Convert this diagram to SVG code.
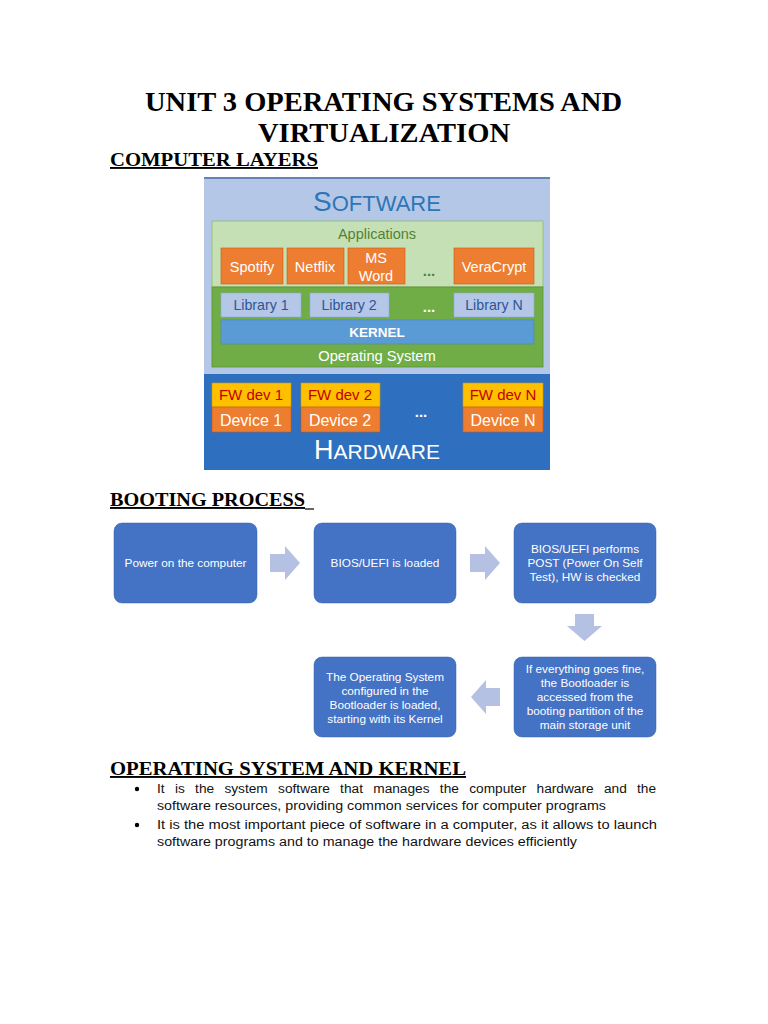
<svg xmlns="http://www.w3.org/2000/svg" width="768" height="1024" viewBox="0 0 768 1024">
<style>
.h{font-family:"Liberation Serif","Times New Roman",serif;font-weight:bold;fill:#000}
.sec{font-family:"Liberation Serif","Times New Roman",serif;font-weight:bold;font-size:19px;text-decoration:underline;fill:#000}
.c{font-family:"Liberation Sans",Arial,sans-serif;text-anchor:middle}
.w{fill:#fff}
.or{fill:#ed7d31;stroke:#c55a11;stroke-width:0.6}
.lib{fill:#b4c7e7;stroke:#8faadc;stroke-width:0.6}
.fw{fill:#ffc000;stroke:#c99a00;stroke-width:0.6}
.box{fill:#4472c4;stroke:#3a62a8;stroke-width:0.5}
.bt{font-family:"Liberation Sans",Arial,sans-serif;font-size:11.8px;fill:#fff;text-anchor:middle}
.ar{fill:#b4c1e2}
.body{font-family:"Liberation Sans",Arial,sans-serif;font-size:13.7px;fill:#111}
</style>
<rect width="768" height="1024" fill="#fff"/>
<g id="title">
<text class="h" x="145" y="111" font-size="28" textLength="477" lengthAdjust="spacingAndGlyphs">UNIT 3 OPERATING SYSTEMS AND</text>
<text class="h" x="258" y="142" font-size="28" textLength="252" lengthAdjust="spacingAndGlyphs">VIRTUALIZATION</text>
</g>
<text class="sec" x="110" y="166" textLength="208" lengthAdjust="spacingAndGlyphs">COMPUTER LAYERS</text>
<g id="layers">
<rect x="204" y="177" width="346" height="197" fill="#b4c7e7"/>
<line x1="204" y1="178" x2="550" y2="178" stroke="#4a6ea8" stroke-width="1.5"/>
<text class="c" x="377" y="211" fill="#2e75b6" font-size="22"><tspan font-size="28">S</tspan>OFTWARE</text>
<g id="applications">
<rect x="212" y="221" width="331" height="66" fill="#c5e0b4" stroke="#8fbc6f" stroke-width="0.8"/>
<text class="c" x="377" y="239" fill="#548235" font-size="14.5">Applications</text>
</g>
<g id="spotify"><rect class="or" x="221" y="248" width="62" height="36"/><text class="c w" x="252" y="272" font-size="14.5">Spotify</text></g>
<g id="netflix"><rect class="or" x="287" y="248" width="57" height="36"/><text class="c w" x="315" y="272" font-size="14.5">Netflix</text></g>
<g id="msword"><rect class="or" x="348" y="248" width="57" height="36"/><text class="c w" x="376" y="263" font-size="14.5">MS</text><text class="c w" x="376" y="281" font-size="14.5">Word</text></g>
<text class="c" x="429" y="276" fill="#548235" font-size="15" font-weight="bold">...</text>
<g id="veracrypt"><rect class="or" x="454" y="248" width="80" height="36"/><text class="c w" x="494" y="272" font-size="14.5">VeraCrypt</text></g>
<g id="os">
<rect x="212" y="287" width="331" height="80" fill="#70ad47" stroke="#5a8f38" stroke-width="0.8"/>
<text class="c w" x="377" y="361" font-size="14.7">Operating System</text>
</g>
<g id="lib1"><rect class="lib" x="221" y="293" width="80" height="24"/><text class="c" x="261" y="310" fill="#2f5597" font-size="14.2">Library 1</text></g>
<g id="lib2"><rect class="lib" x="310" y="293" width="79" height="24"/><text class="c" x="349" y="310" fill="#2f5597" font-size="14.2">Library 2</text></g>
<text class="c w" x="429" y="312" font-size="15" font-weight="bold">...</text>
<g id="libn"><rect class="lib" x="454" y="293" width="80" height="24"/><text class="c" x="494" y="310" fill="#2f5597" font-size="14.2">Library N</text></g>
<g id="kernel"><rect x="221" y="320" width="313" height="24" fill="#5b9bd5" stroke="#4a85bd" stroke-width="0.6"/><text class="c w" x="377" y="337" font-size="13.5" font-weight="bold">KERNEL</text></g>
<g id="hardware">
<rect x="204" y="374" width="346" height="96" fill="#2e6fc0"/>
<text class="c w" x="377" y="459" font-size="21"><tspan font-size="27">H</tspan>ARDWARE</text>
</g>
<g id="dev1"><rect class="fw" x="212" y="383" width="79" height="24"/><text class="c" x="251" y="400" fill="#c00000" font-size="15">FW dev 1</text><rect class="or" x="212" y="407" width="79" height="25"/><text class="c w" x="251" y="426" font-size="16">Device 1</text></g>
<g id="dev2"><rect class="fw" x="301" y="383" width="79" height="24"/><text class="c" x="340" y="400" fill="#c00000" font-size="15">FW dev 2</text><rect class="or" x="301" y="407" width="79" height="25"/><text class="c w" x="340" y="426" font-size="16">Device 2</text></g>
<text class="c w" x="421" y="417" font-size="15" font-weight="bold">...</text>
<g id="devn"><rect class="fw" x="463" y="383" width="80" height="24"/><text class="c" x="503" y="400" fill="#c00000" font-size="15">FW dev N</text><rect class="or" x="463" y="407" width="80" height="25"/><text class="c w" x="503" y="426" font-size="16">Device N</text></g>
</g>
<text class="sec" x="110" y="506" textLength="195" lengthAdjust="spacingAndGlyphs">BOOTING PROCESS</text>
<line x1="305" y1="509" x2="314" y2="509" stroke="#000" stroke-width="1.2"/>
<g id="connectors">
<polygon class="ar" points="270,554 285,554 285,546 300,563 285,580 285,572 270,572"/>
<polygon class="ar" points="470,554 485,554 485,546 500,563 485,580 485,572 470,572"/>
<polygon class="ar" points="575,614 594,614 594,626 602,626 584.5,641 567,626 575,626"/>
<polygon class="ar" points="500,688 486,688 486,680 471,697 486,714 486,706 500,706"/>
</g>
<g id="b1"><rect class="box" x="114" y="523" width="143" height="80" rx="8"/><text class="bt" x="185.5" y="567">Power on the computer</text></g>
<g id="b2"><rect class="box" x="314" y="523" width="142" height="80" rx="8"/><text class="bt" x="385" y="567">BIOS/UEFI is loaded</text></g>
<g id="b3"><rect class="box" x="514" y="523" width="142" height="80" rx="8"/><text class="bt" x="585" y="553">BIOS/UEFI performs</text><text class="bt" x="585" y="567">POST (Power On Self</text><text class="bt" x="585" y="581">Test), HW is checked</text></g>
<g id="b4"><rect class="box" x="514" y="657" width="142" height="80" rx="8"/><text class="bt" x="585" y="673">If everything goes fine,</text><text class="bt" x="585" y="687">the Bootloader is</text><text class="bt" x="585" y="701">accessed from the</text><text class="bt" x="585" y="715">booting partition of the</text><text class="bt" x="585" y="729">main storage unit</text></g>
<g id="b5"><rect class="box" x="314" y="657" width="142" height="80" rx="8"/><text class="bt" x="385" y="681">The Operating System</text><text class="bt" x="385" y="695">configured in the</text><text class="bt" x="385" y="709">Bootloader is loaded,</text><text class="bt" x="385" y="723">starting with its Kernel</text></g>
<text class="sec" x="110" y="775" textLength="356" lengthAdjust="spacingAndGlyphs">OPERATING SYSTEM AND KERNEL</text>
<g id="bullets">
<circle cx="137" cy="789" r="2.2" fill="#000"/>
<text class="body" x="157" y="793" word-spacing="6.5">It is the system software that manages the computer hardware and the</text>
<text class="body" x="157" y="810" textLength="449" lengthAdjust="spacingAndGlyphs">software resources, providing common services for computer programs</text>
<circle cx="137" cy="825" r="2.2" fill="#000"/>
<text class="body" x="157" y="829" textLength="500" lengthAdjust="spacingAndGlyphs">It is the most important piece of software in a computer, as it allows to launch</text>
<text class="body" x="157" y="846" textLength="420" lengthAdjust="spacingAndGlyphs">software programs and to manage the hardware devices efficiently</text>
</g>
</svg>
